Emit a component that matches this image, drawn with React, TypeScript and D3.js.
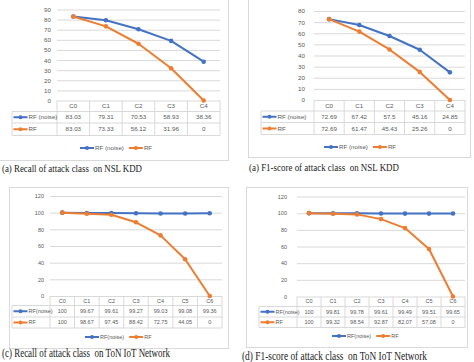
import { useEffect, useRef } from 'react';
import * as d3 from 'd3';

// categories
const nslCats = ['C0', 'C1', 'C2', 'C3', 'C4'];
const tonCats = ['C0', 'C1', 'C2', 'C3', 'C4', 'C5', 'C6'];

// series values
const nslRecallNoise = [83.03, 79.31, 70.53, 58.93, 38.36];
const nslRecallRf = [83.03, 73.33, 56.12, 31.96, 0];
const nslF1Noise = [72.69, 67.42, 57.5, 45.16, 24.85];
const nslF1Rf = [72.69, 61.47, 45.43, 25.26, 0];
const tonRecallNoise = [100, 99.67, 99.61, 99.27, 99.03, 99.08, 99.36];
const tonRecallRf = [100, 98.67, 97.45, 88.42, 72.75, 44.05, 0];
const tonF1Noise = [100, 99.81, 99.78, 99.61, 99.49, 99.51, 99.65];
const tonF1Rf = [100, 99.32, 98.54, 92.87, 82.07, 57.08, 0];

// tick labels
const nslRecallTicks = [0, 10, 20, 30, 40, 50, 60, 70, 80, 90];
const nslF1Ticks = [0, 10, 20, 30, 40, 50, 60, 70, 80];
const tonTicks = [0, 20, 40, 60, 80, 100, 120];

const BLUE = '#4472c4';
const ORANGE = '#ed7d31';
const GRID = '#d9d9d9';
const TXT = '#595959';

interface PanelCfg {
  frame: [number, number, number, number];
  x0: number;
  x1: number;
  yTop: number;
  yBottom: number;
  ticks: number[];
  pad: number;
  cats: string[];
  noise: number[];
  rf: number[];
  noiseLabel: string;
  labelLeft: number;
  rowH: [number, number, number];
  fs: number;
  legendX: number;
  legendY: number;
  caption: string;
  captionX: number;
  captionY: number;
  captionSize: number;
  captionW: number;
}

const panels: PanelCfg[] = [
  {
    frame: [-1, -1, 229, 161], x0: 57, x1: 220, yTop: 9.5, yBottom: 100.5,
    ticks: nslRecallTicks, pad: 6, cats: nslCats, noise: nslRecallNoise, rf: nslRecallRf,
    noiseLabel: 'RF (noise)', labelLeft: 12, rowH: [11, 11.5, 12.5], fs: 6.2,
    legendX: 80, legendY: 148, caption: '(a) Recall of attack class  on NSL KDD',
    captionX: 2, captionY: 172, captionSize: 10.5, captionW: 140,
  },
  {
    frame: [248, -1, 222, 158], x0: 314, x1: 465, yTop: 11, yBottom: 100,
    ticks: nslF1Ticks, pad: 9, cats: nslCats, noise: nslF1Noise, rf: nslF1Rf,
    noiseLabel: 'RF (noise)', labelLeft: 261, rowH: [11, 11.5, 12], fs: 6.2,
    legendX: 324, legendY: 147, caption: '(a) F1-score of attack class  on NSL KDD',
    captionX: 249, captionY: 171, captionSize: 10.5, captionW: 150,
  },
  {
    frame: [9, 187, 219, 161], x0: 50, x1: 222, yTop: 196, yBottom: 296,
    ticks: tonTicks, pad: 6, cats: tonCats, noise: tonRecallNoise, rf: tonRecallRf,
    noiseLabel: 'RF(noise)', labelLeft: 12, rowH: [9.5, 11.5, 11], fs: 5.5,
    legendX: 85, legendY: 337, caption: '(c) Recall of attack class  on ToN IoT Network',
    captionX: 2, captionY: 357, captionSize: 12, captionW: 168,
  },
  {
    frame: [246, 187, 221, 160], x0: 297, x1: 465, yTop: 196.5, yBottom: 296.5,
    ticks: tonTicks, pad: 10, cats: tonCats, noise: tonF1Noise, rf: tonF1Rf,
    noiseLabel: 'RF(noise)', labelLeft: 259, rowH: [10, 10.5, 10.5], fs: 5.5,
    legendX: 332, legendY: 336, caption: '(d) F1-score of attack class  on ToN IoT Network',
    captionX: 242, captionY: 360, captionSize: 11.5, captionW: 185,
  },
];

const drawKey = (
  g: d3.Selection<SVGGElement, unknown, null, undefined>,
  x: number,
  y: number,
  color: string,
  label: string,
  fs: number
) => {
  g.append('line')
    .attr('x1', x).attr('x2', x + 14).attr('y1', y).attr('y2', y)
    .attr('stroke', color).attr('stroke-width', 2);
  g.append('circle')
    .attr('cx', x + 7).attr('cy', y).attr('r', 2)
    .attr('fill', color);
  g.append('text')
    .attr('x', x + 15).attr('y', y).attr('dy', '0.35em')
    .attr('font-size', fs).attr('fill', TXT)
    .text(label);
};

const App = () => {
  const svgRef = useRef<SVGSVGElement>(null);

  useEffect(() => {
    if (!svgRef.current) return;
    const svg = d3.select(svgRef.current);
    svg.selectAll('*').remove();

    panels.forEach((p) => {
      const g = svg.append('g').attr('font-family', '"Liberation Sans", Arial, sans-serif');
      const [fx, fy, fw, fh] = p.frame;

      g.append('rect')
        .attr('x', fx + 0.5).attr('y', fy + 0.5).attr('width', fw).attr('height', fh)
        .attr('fill', '#fff').attr('stroke', GRID);

      const x = d3.scaleBand().domain(p.cats).range([p.x0, p.x1]);
      const yMax = p.ticks[p.ticks.length - 1];
      const y = d3.scaleLinear().domain([0, yMax]).range([p.yBottom, p.yTop]);
      const cx = (c: string) => (x(c) || 0) + x.bandwidth() / 2;

      // grid + y labels
      const axis = g.append('g')
        .attr('transform', `translate(${p.x0},0)`)
        .call(d3.axisLeft(y).tickValues(p.ticks).tickSize(-(p.x1 - p.x0)).tickPadding(p.pad));
      axis.select('.domain').remove();
      axis.selectAll('line').attr('stroke', GRID);
      axis.selectAll('text')
        .attr('font-size', p.fs).attr('fill', TXT)
        .attr('font-family', '"Liberation Sans", Arial, sans-serif');

      // data table
      const r0 = p.yBottom;
      const r1 = r0 + p.rowH[0];
      const r2 = r1 + p.rowH[1];
      const r3 = r2 + p.rowH[2];
      const tl = g.append('g').attr('stroke', GRID).attr('stroke-width', 1);
      [r1, r2, r3].forEach((ry) => {
        tl.append('line').attr('x1', p.labelLeft).attr('x2', p.x1).attr('y1', ry).attr('y2', ry);
      });
      tl.append('line').attr('x1', p.labelLeft).attr('x2', p.labelLeft).attr('y1', r1).attr('y2', r3);
      const bounds = [...p.cats.map((c) => x(c) || 0), p.x1];
      bounds.forEach((bx) => {
        tl.append('line').attr('x1', bx).attr('x2', bx).attr('y1', r0).attr('y2', r3);
      });

      g.selectAll(null)
        .data(p.cats)
        .enter().append('text')
        .attr('x', (d) => cx(d)).attr('y', (r0 + r1) / 2).attr('dy', '0.35em')
        .attr('text-anchor', 'middle').attr('font-size', p.fs).attr('fill', TXT)
        .text((d) => d);

      const rows: [number[], number, number][] = [
        [p.noise, (r1 + r2) / 2, 0],
        [p.rf, (r2 + r3) / 2, 1],
      ];
      rows.forEach(([vals, ry, i]) => {
        g.selectAll(null)
          .data(vals)
          .enter().append('text')
          .attr('x', (_d, k) => cx(p.cats[k])).attr('y', ry).attr('dy', '0.35em')
          .attr('text-anchor', 'middle').attr('font-size', p.fs).attr('fill', TXT)
          .text((d) => String(d));
        drawKey(g, p.labelLeft + 1.5, ry, i === 0 ? BLUE : ORANGE,
          i === 0 ? p.noiseLabel : 'RF', p.fs);
      });

      // series lines
      const line = d3.line<number>()
        .x((_d, k) => cx(p.cats[k]))
        .y((d) => y(d));
      [[p.noise, BLUE], [p.rf, ORANGE]].forEach(([vals, color]) => {
        const v = vals as number[];
        g.append('path')
          .attr('d', line(v) || '')
          .attr('fill', 'none').attr('stroke', color as string)
          .attr('stroke-width', 2).attr('stroke-linejoin', 'round');
        g.selectAll(null)
          .data(v)
          .enter().append('circle')
          .attr('cx', (_d, k) => cx(p.cats[k])).attr('cy', (d) => y(d)).attr('r', 2.3)
          .attr('fill', color as string);
      });

      // legend
      const lg = g.append('g');
      drawKey(lg, p.legendX, p.legendY, BLUE, p.noiseLabel, p.fs);
      const noiseW = (lg.select('text').node() as SVGTextElement).getComputedTextLength();
      drawKey(lg, p.legendX + 15 + noiseW + 5, p.legendY, ORANGE, 'RF', p.fs);

      // caption
      svg.append('text')
        .attr('x', p.captionX).attr('y', p.captionY)
        .attr('font-family', '"Liberation Serif", "Times New Roman", serif')
        .attr('font-size', p.captionSize).attr('fill', '#222')
        .attr('textLength', p.captionW).attr('lengthAdjust', 'spacingAndGlyphs')
        .style('white-space', 'pre')
        .text(p.caption);
    });
  }, []);

  return (
    <svg
      ref={svgRef}
      width={474}
      height={362}
      style={{ position: 'absolute', left: 0, top: 0, background: '#fff' }}
    />
  );
};

export default App;
